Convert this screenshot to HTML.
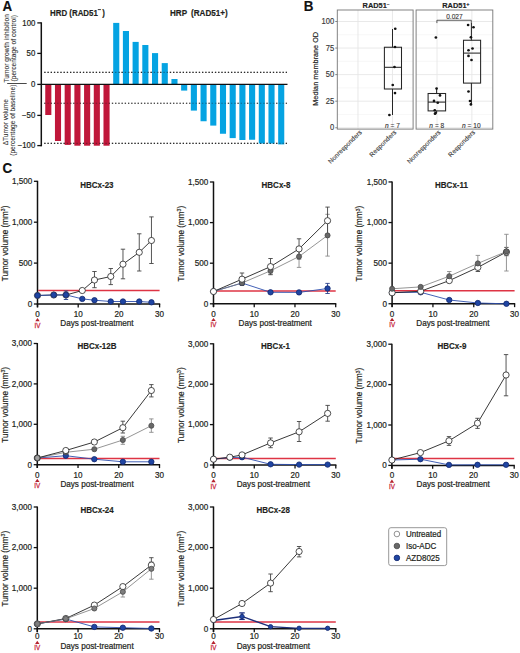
<!DOCTYPE html>
<html><head><meta charset="utf-8"><style>
html,body{margin:0;padding:0;background:#fff;width:520px;height:653px;overflow:hidden}
svg{display:block;font-family:"Liberation Sans", sans-serif}
</style></head><body>
<svg width="520" height="653" viewBox="0 0 520 653" font-family='"Liberation Sans", sans-serif'>
<rect width="520" height="653" fill="#fff"/>
<text x="0" y="0" font-size="13.4" font-weight="bold" fill="#111" stroke="#111" stroke-width="0.15" transform="translate(2.6,10.7) scale(1,1.08)">A</text>
<text x="0" y="0" font-size="7.9" font-weight="bold" fill="#231f20" stroke="#231f20" stroke-width="0.15" transform="translate(50.0,16.2) scale(1,1.08)">HRD (RAD51</text>
<line x1="97.8" y1="9.6" x2="100.9" y2="9.6" stroke="#231f20" stroke-width="0.9"/>
<text x="0" y="0" font-size="7.9" font-weight="bold" fill="#231f20" stroke="#231f20" stroke-width="0.15" transform="translate(102.2,16.2) scale(1,1.08)">)</text>
<text x="0" y="0" font-size="8.1" font-weight="bold" fill="#231f20" stroke="#231f20" stroke-width="0.15" transform="translate(170.0,16.3) scale(1,1.08)">HRP</text><text x="0" y="0" font-size="8.1" font-weight="bold" fill="#231f20" stroke="#231f20" stroke-width="0.15" transform="translate(191.0,16.3) scale(1,1.08)">(RAD51+)</text>
<line x1="44.25" y1="72.35" x2="287" y2="72.35" stroke="#333" stroke-width="1.15" stroke-dasharray="1.3 1.92"/>
<line x1="44.25" y1="103.2" x2="287" y2="103.2" stroke="#333" stroke-width="1.15" stroke-dasharray="1.3 1.92"/>
<line x1="44.25" y1="143.4" x2="287" y2="143.4" stroke="#333" stroke-width="1.15" stroke-dasharray="1.3 1.92"/>
<rect x="45.25" y="84.40" width="6.1" height="30.60" fill="#c0173a"/>
<rect x="54.95" y="84.40" width="6.1" height="56.60" fill="#c0173a"/>
<rect x="64.66" y="84.40" width="6.1" height="60.50" fill="#c0173a"/>
<rect x="74.37" y="84.40" width="6.1" height="61.30" fill="#c0173a"/>
<rect x="84.07" y="84.40" width="6.1" height="61.30" fill="#c0173a"/>
<rect x="93.78" y="84.40" width="6.1" height="61.30" fill="#c0173a"/>
<rect x="103.48" y="84.40" width="6.1" height="61.30" fill="#c0173a"/>
<rect x="113.19" y="22.90" width="6.1" height="61.50" fill="#05a3e2"/>
<rect x="122.89" y="31.00" width="6.1" height="53.40" fill="#05a3e2"/>
<rect x="132.59" y="41.90" width="6.1" height="42.50" fill="#05a3e2"/>
<rect x="142.30" y="45.00" width="6.1" height="39.40" fill="#05a3e2"/>
<rect x="152.00" y="53.10" width="6.1" height="31.30" fill="#05a3e2"/>
<rect x="161.71" y="63.10" width="6.1" height="21.30" fill="#05a3e2"/>
<rect x="171.42" y="79.00" width="6.1" height="5.40" fill="#05a3e2"/>
<rect x="181.12" y="84.40" width="6.1" height="6.20" fill="#05a3e2"/>
<rect x="190.82" y="84.40" width="6.1" height="26.20" fill="#05a3e2"/>
<rect x="200.53" y="84.40" width="6.1" height="36.85" fill="#05a3e2"/>
<rect x="210.24" y="84.40" width="6.1" height="41.20" fill="#05a3e2"/>
<rect x="219.94" y="84.40" width="6.1" height="49.35" fill="#05a3e2"/>
<rect x="229.65" y="84.40" width="6.1" height="53.70" fill="#05a3e2"/>
<rect x="239.35" y="84.40" width="6.1" height="55.60" fill="#05a3e2"/>
<rect x="249.06" y="84.40" width="6.1" height="55.35" fill="#05a3e2"/>
<rect x="258.76" y="84.40" width="6.1" height="59.10" fill="#05a3e2"/>
<rect x="268.47" y="84.40" width="6.1" height="59.10" fill="#05a3e2"/>
<rect x="278.17" y="84.40" width="6.1" height="60.00" fill="#05a3e2"/>
<line x1="44.25" y1="72.35" x2="287" y2="72.35" stroke="#222" stroke-opacity="0.45" stroke-width="1.15" stroke-dasharray="1.3 1.92"/>
<line x1="44.25" y1="103.2" x2="287" y2="103.2" stroke="#222" stroke-opacity="0.45" stroke-width="1.15" stroke-dasharray="1.3 1.92"/>
<line x1="44.25" y1="143.4" x2="287" y2="143.4" stroke="#222" stroke-opacity="0.45" stroke-width="1.15" stroke-dasharray="1.3 1.92"/>
<line x1="41.3" y1="84.4" x2="287.5" y2="84.4" stroke="#111" stroke-width="1.4"/>
<line x1="41.3" y1="22.3" x2="41.3" y2="146.3" stroke="#111" stroke-width="1.5"/>
<line x1="37.3" y1="22.9" x2="41.3" y2="22.9" stroke="#111" stroke-width="1.3"/>
<text x="0" y="0" font-size="7.8" text-anchor="end" fill="#231f20" stroke="#231f20" stroke-width="0.2" transform="translate(35.3,25.7) scale(1,1.08)">100</text>
<line x1="37.3" y1="53.4" x2="41.3" y2="53.4" stroke="#111" stroke-width="1.3"/>
<text x="0" y="0" font-size="7.8" text-anchor="end" fill="#231f20" stroke="#231f20" stroke-width="0.2" transform="translate(35.3,56.2) scale(1,1.08)">50</text>
<line x1="37.3" y1="84.4" x2="41.3" y2="84.4" stroke="#111" stroke-width="1.3"/>
<text x="0" y="0" font-size="7.8" text-anchor="end" fill="#231f20" stroke="#231f20" stroke-width="0.2" transform="translate(35.3,87.2) scale(1,1.08)">0</text>
<line x1="37.3" y1="115.4" x2="41.3" y2="115.4" stroke="#111" stroke-width="1.3"/>
<text x="0" y="0" font-size="7.8" text-anchor="end" fill="#231f20" stroke="#231f20" stroke-width="0.2" transform="translate(35.3,118.2) scale(1,1.08)">−50</text>
<line x1="37.3" y1="145.6" x2="41.3" y2="145.6" stroke="#111" stroke-width="1.3"/>
<text x="0" y="0" font-size="7.8" text-anchor="end" fill="#231f20" stroke="#231f20" stroke-width="0.2" transform="translate(35.3,148.4) scale(1,1.08)">−100</text>
<g transform="translate(8.6,48.3) rotate(-90)"><text x="0" y="0" font-size="6.6" text-anchor="middle" fill="#333" stroke="#333" stroke-width="0.08">Tumor growth inhibition</text></g>
<g transform="translate(15.9,48.3) rotate(-90)"><text x="0" y="0" font-size="6.6" text-anchor="middle" fill="#333" stroke="#333" stroke-width="0.08">(percentage of control)</text></g>
<line x1="7.2" y1="83.5" x2="26.7" y2="83.5" stroke="#333" stroke-width="0.9"/>
<g transform="translate(7.9,122.2) rotate(-90)"><text x="0" y="0" font-size="6.6" text-anchor="middle" fill="#333" stroke="#333" stroke-width="0.08">ΔTumor volume</text></g>
<g transform="translate(15.1,120.2) rotate(-90)"><text x="0" y="0" font-size="6.6" text-anchor="middle" fill="#333" stroke="#333" stroke-width="0.08">(percentage of baseline)</text></g>
<text x="0" y="0" font-size="13.4" font-weight="bold" fill="#111" stroke="#111" stroke-width="0.15" transform="translate(303.8,10.7) scale(1,1.08)">B</text>
<line x1="337.3" y1="114.47" x2="413.1" y2="114.47" stroke="#f2f2f2" stroke-width="0.6"/>
<line x1="337.3" y1="87.91" x2="413.1" y2="87.91" stroke="#f2f2f2" stroke-width="0.6"/>
<line x1="337.3" y1="61.34" x2="413.1" y2="61.34" stroke="#f2f2f2" stroke-width="0.6"/>
<line x1="337.3" y1="34.78" x2="413.1" y2="34.78" stroke="#f2f2f2" stroke-width="0.6"/>
<line x1="337.3" y1="127.75" x2="413.1" y2="127.75" stroke="#e6e6e6" stroke-width="0.9"/>
<line x1="337.3" y1="101.19" x2="413.1" y2="101.19" stroke="#e6e6e6" stroke-width="0.9"/>
<line x1="337.3" y1="74.62" x2="413.1" y2="74.62" stroke="#e6e6e6" stroke-width="0.9"/>
<line x1="337.3" y1="48.06" x2="413.1" y2="48.06" stroke="#e6e6e6" stroke-width="0.9"/>
<line x1="337.3" y1="21.50" x2="413.1" y2="21.50" stroke="#e6e6e6" stroke-width="0.9"/>
<line x1="357.97" y1="10" x2="357.97" y2="129.1" stroke="#e6e6e6" stroke-width="0.9"/>
<line x1="392.43" y1="10" x2="392.43" y2="129.1" stroke="#e6e6e6" stroke-width="0.9"/>
<rect x="337.3" y="10" width="75.80" height="119.10" fill="none" stroke="#7c7c7c" stroke-width="0.95"/>
<line x1="416.1" y1="114.47" x2="492.8" y2="114.47" stroke="#f2f2f2" stroke-width="0.6"/>
<line x1="416.1" y1="87.91" x2="492.8" y2="87.91" stroke="#f2f2f2" stroke-width="0.6"/>
<line x1="416.1" y1="61.34" x2="492.8" y2="61.34" stroke="#f2f2f2" stroke-width="0.6"/>
<line x1="416.1" y1="34.78" x2="492.8" y2="34.78" stroke="#f2f2f2" stroke-width="0.6"/>
<line x1="416.1" y1="127.75" x2="492.8" y2="127.75" stroke="#e6e6e6" stroke-width="0.9"/>
<line x1="416.1" y1="101.19" x2="492.8" y2="101.19" stroke="#e6e6e6" stroke-width="0.9"/>
<line x1="416.1" y1="74.62" x2="492.8" y2="74.62" stroke="#e6e6e6" stroke-width="0.9"/>
<line x1="416.1" y1="48.06" x2="492.8" y2="48.06" stroke="#e6e6e6" stroke-width="0.9"/>
<line x1="416.1" y1="21.50" x2="492.8" y2="21.50" stroke="#e6e6e6" stroke-width="0.9"/>
<line x1="437.02" y1="10" x2="437.02" y2="129.1" stroke="#e6e6e6" stroke-width="0.9"/>
<line x1="471.88" y1="10" x2="471.88" y2="129.1" stroke="#e6e6e6" stroke-width="0.9"/>
<rect x="416.1" y="10" width="76.70" height="119.10" fill="none" stroke="#7c7c7c" stroke-width="0.95"/>
<line x1="335.3" y1="127.75" x2="337.3" y2="127.75" stroke="#666" stroke-width="0.8"/>
<text x="0" y="0" font-size="7.6" text-anchor="end" fill="#3a3a3a" stroke="#3a3a3a" stroke-width="0.15" transform="translate(334.2,130.45) scale(1,1.08)">0</text>
<line x1="335.3" y1="101.19" x2="337.3" y2="101.19" stroke="#666" stroke-width="0.8"/>
<text x="0" y="0" font-size="7.6" text-anchor="end" fill="#3a3a3a" stroke="#3a3a3a" stroke-width="0.15" transform="translate(334.2,103.89) scale(1,1.08)">25</text>
<line x1="335.3" y1="74.62" x2="337.3" y2="74.62" stroke="#666" stroke-width="0.8"/>
<text x="0" y="0" font-size="7.6" text-anchor="end" fill="#3a3a3a" stroke="#3a3a3a" stroke-width="0.15" transform="translate(334.2,77.33) scale(1,1.08)">50</text>
<line x1="335.3" y1="48.06" x2="337.3" y2="48.06" stroke="#666" stroke-width="0.8"/>
<text x="0" y="0" font-size="7.6" text-anchor="end" fill="#3a3a3a" stroke="#3a3a3a" stroke-width="0.15" transform="translate(334.2,50.76) scale(1,1.08)">75</text>
<line x1="335.3" y1="21.50" x2="337.3" y2="21.50" stroke="#666" stroke-width="0.8"/>
<text x="0" y="0" font-size="7.6" text-anchor="end" fill="#3a3a3a" stroke="#3a3a3a" stroke-width="0.15" transform="translate(334.2,24.2) scale(1,1.08)">100</text>
<g transform="translate(318.2,68.8) rotate(-90)"><text x="0" y="0" font-size="7.3" text-anchor="middle" fill="#222" stroke="#222" stroke-width="0.18">Median membrane OD</text></g>
<text x="0" y="0" font-size="7.4" font-weight="bold" text-anchor="middle" fill="#222" stroke="#222" stroke-width="0.15" transform="translate(376.0,8.1) scale(1,1.08)">RAD51<tspan dy="-1.9" font-size="4.8">–</tspan></text>
<text x="0" y="0" font-size="7.4" font-weight="bold" text-anchor="middle" fill="#222" stroke="#222" stroke-width="0.15" transform="translate(455.8,8.1) scale(1,1.08)">RAD51<tspan dy="-2.3" font-size="4.8">+</tspan></text>
<line x1="392.5" y1="29.0" x2="392.5" y2="47.25" stroke="#262626" stroke-width="1.05"/>
<line x1="392.5" y1="89.0" x2="392.5" y2="115.0" stroke="#262626" stroke-width="1.05"/>
<rect x="384.4" y="47.25" width="17.10" height="41.75" fill="none" stroke="#262626" stroke-width="1.05"/>
<line x1="384.4" y1="67.3" x2="401.5" y2="67.3" stroke="#262626" stroke-width="1.05"/>
<line x1="436.6" y1="88.5" x2="436.6" y2="93.5" stroke="#262626" stroke-width="1.05"/>
<line x1="436.6" y1="110.9" x2="436.6" y2="113.0" stroke="#262626" stroke-width="1.05"/>
<rect x="428.1" y="93.5" width="17.50" height="17.40" fill="none" stroke="#262626" stroke-width="1.05"/>
<line x1="428.1" y1="102.1" x2="445.6" y2="102.1" stroke="#262626" stroke-width="1.05"/>
<line x1="471.4" y1="23.0" x2="471.4" y2="40.25" stroke="#262626" stroke-width="1.05"/>
<line x1="471.4" y1="83.1" x2="471.4" y2="104.4" stroke="#262626" stroke-width="1.05"/>
<rect x="463.5" y="40.25" width="17.10" height="42.85" fill="none" stroke="#262626" stroke-width="1.05"/>
<line x1="463.5" y1="53.1" x2="480.6" y2="53.1" stroke="#262626" stroke-width="1.05"/>
<circle cx="395.25" cy="28.75" r="1.35" fill="#111"/>
<circle cx="395" cy="47" r="1.35" fill="#111"/>
<circle cx="394.5" cy="67" r="1.35" fill="#111"/>
<circle cx="392.75" cy="85" r="1.35" fill="#111"/>
<circle cx="395" cy="93.1" r="1.35" fill="#111"/>
<circle cx="389.4" cy="115" r="1.35" fill="#111"/>
<circle cx="435.9" cy="37.5" r="1.35" fill="#111"/>
<circle cx="436.6" cy="88.5" r="1.35" fill="#111"/>
<circle cx="440" cy="95.4" r="1.35" fill="#111"/>
<circle cx="434" cy="100.9" r="1.35" fill="#111"/>
<circle cx="437.75" cy="102.75" r="1.35" fill="#111"/>
<circle cx="434.75" cy="110.25" r="1.35" fill="#111"/>
<circle cx="435.6" cy="113.1" r="1.35" fill="#111"/>
<circle cx="435" cy="113.75" r="1.35" fill="#111"/>
<circle cx="468.1" cy="25" r="1.35" fill="#111"/>
<circle cx="473.5" cy="27.25" r="1.35" fill="#111"/>
<circle cx="470.9" cy="37.25" r="1.35" fill="#111"/>
<circle cx="472.5" cy="48.5" r="1.35" fill="#111"/>
<circle cx="468.5" cy="50.25" r="1.35" fill="#111"/>
<circle cx="468.5" cy="55.9" r="1.35" fill="#111"/>
<circle cx="471.5" cy="60" r="1.35" fill="#111"/>
<circle cx="468.5" cy="91.5" r="1.35" fill="#111"/>
<circle cx="470" cy="101" r="1.35" fill="#111"/>
<circle cx="470.9" cy="104.4" r="1.35" fill="#111"/>
<path d="M436.9 23.1 V20.25 H471.3 V23.1" fill="none" stroke="#333" stroke-width="0.8"/>
<text x="0" y="0" font-size="6.6" text-anchor="middle" fill="#333" stroke="#333" stroke-width="0.12" transform="translate(454.4,18.5) scale(1,1.08)">0.027</text>
<text x="0" y="0" font-size="6.6" text-anchor="middle" fill="#333" stroke="#333" stroke-width="0.12" transform="translate(392.5,128.0) scale(1,1.08)"><tspan font-style="italic">n</tspan> = 7</text>
<text x="0" y="0" font-size="6.6" text-anchor="middle" fill="#333" stroke="#333" stroke-width="0.12" transform="translate(436.8,128.0) scale(1,1.08)"><tspan font-style="italic">n</tspan> = 8</text>
<text x="0" y="0" font-size="6.6" text-anchor="middle" fill="#333" stroke="#333" stroke-width="0.12" transform="translate(471.3,128.0) scale(1,1.08)"><tspan font-style="italic">n</tspan> = 10</text>
<g transform="translate(362.30,132.6) rotate(-45)"><text x="0" y="0" font-size="6.5" text-anchor="end" fill="#3a3a3a" stroke="#3a3a3a" stroke-width="0.12">Nonresponders</text></g>
<g transform="translate(396.80,132.6) rotate(-45)"><text x="0" y="0" font-size="6.5" text-anchor="end" fill="#3a3a3a" stroke="#3a3a3a" stroke-width="0.12">Responders</text></g>
<g transform="translate(441.10,132.6) rotate(-45)"><text x="0" y="0" font-size="6.5" text-anchor="end" fill="#3a3a3a" stroke="#3a3a3a" stroke-width="0.12">Nonresponders</text></g>
<g transform="translate(475.60,132.6) rotate(-45)"><text x="0" y="0" font-size="6.5" text-anchor="end" fill="#3a3a3a" stroke="#3a3a3a" stroke-width="0.12">Responders</text></g>
<text x="0" y="0" font-size="13.4" font-weight="bold" fill="#111" stroke="#111" stroke-width="0.15" transform="translate(2.4,173.3) scale(1,1.08)">C</text>
<line x1="37.5" y1="180.80" x2="37.5" y2="307.30" stroke="#111" stroke-width="1.5"/>
<line x1="36.80" y1="304.0" x2="160.20" y2="304.0" stroke="#111" stroke-width="1.5"/>
<line x1="33.90" y1="304.00" x2="37.5" y2="304.00" stroke="#111" stroke-width="1.3"/>
<text x="0" y="0" font-size="8.1" text-anchor="end" fill="#231f20" stroke="#231f20" stroke-width="0.2" transform="translate(32.3,306.85) scale(1,1.08)">0</text>
<line x1="33.90" y1="263.10" x2="37.5" y2="263.10" stroke="#111" stroke-width="1.3"/>
<text x="0" y="0" font-size="8.1" text-anchor="end" fill="#231f20" stroke="#231f20" stroke-width="0.2" transform="translate(32.3,265.95) scale(1,1.08)">500</text>
<line x1="33.90" y1="222.20" x2="37.5" y2="222.20" stroke="#111" stroke-width="1.3"/>
<text x="0" y="0" font-size="8.1" text-anchor="end" fill="#231f20" stroke="#231f20" stroke-width="0.2" transform="translate(32.3,225.05) scale(1,1.08)">1,000</text>
<line x1="33.90" y1="181.30" x2="37.5" y2="181.30" stroke="#111" stroke-width="1.3"/>
<text x="0" y="0" font-size="8.1" text-anchor="end" fill="#231f20" stroke="#231f20" stroke-width="0.2" transform="translate(32.3,184.15) scale(1,1.08)">1,500</text>
<line x1="37.50" y1="304.0" x2="37.50" y2="307.40" stroke="#111" stroke-width="1.3"/>
<text x="0" y="0" font-size="8.1" text-anchor="middle" fill="#231f20" stroke="#231f20" stroke-width="0.2" transform="translate(37.5,317.0) scale(1,1.08)">0</text>
<line x1="78.20" y1="304.0" x2="78.20" y2="307.40" stroke="#111" stroke-width="1.3"/>
<text x="0" y="0" font-size="8.1" text-anchor="middle" fill="#231f20" stroke="#231f20" stroke-width="0.2" transform="translate(78.2,317.0) scale(1,1.08)">10</text>
<line x1="118.90" y1="304.0" x2="118.90" y2="307.40" stroke="#111" stroke-width="1.3"/>
<text x="0" y="0" font-size="8.1" text-anchor="middle" fill="#231f20" stroke="#231f20" stroke-width="0.2" transform="translate(118.9,317.0) scale(1,1.08)">20</text>
<line x1="159.60" y1="304.0" x2="159.60" y2="307.40" stroke="#111" stroke-width="1.3"/>
<text x="0" y="0" font-size="8.1" text-anchor="middle" fill="#231f20" stroke="#231f20" stroke-width="0.2" transform="translate(159.6,317.0) scale(1,1.08)">30</text>
<path d="M35.30 321.30 L37.50 318.10 L39.70 321.30 Z" fill="#b5222d"/>
<text x="0" y="0" font-size="6.3" text-anchor="middle" fill="#c8283a" stroke="#c8283a" stroke-width="0.25" transform="translate(37.5,327.5) scale(1,1.08)">IV</text>
<text x="0" y="0" font-size="8.15" fill="#231f20" stroke="#231f20" stroke-width="0.2" transform="translate(60.3,325.8) scale(1,1.08)">Days post-treatment</text>
<text x="0" y="0" font-size="8" font-weight="bold" text-anchor="middle" fill="#231f20" stroke="#231f20" stroke-width="0.15" transform="translate(96.9,187.6) scale(1,1.08)">HBCx-23</text>
<g transform="translate(7.70,243.45) rotate(-90)"><text x="0" y="0" font-size="8.15" text-anchor="middle" fill="#231f20" stroke="#231f20" stroke-width="0.18">Tumor volume (mm<tspan dy="-2.6" font-size="5">3</tspan><tspan dy="2.6">)</tspan></text></g>
<line x1="38.20" y1="290.4" x2="159.60" y2="290.4" stroke="#de3444" stroke-width="1.5"/>
<path d="M37.50 295.50 L53.78 295.00 L65.99 295.00 L82.27 290.50 L94.48 280.00 L110.76 276.50 L122.97 264.20 L139.25 252.30 L151.46 240.50" fill="none" stroke="#222222" stroke-width="0.9"/>
<path d="M37.50 295.50 L53.78 294.90 L65.99 294.90 L82.27 298.90 L94.48 300.20 L110.76 301.50 L122.97 301.50 L139.25 301.50 L151.46 302.30" fill="none" stroke="#2e4fae" stroke-width="0.9"/>
<line x1="94.48" y1="271.5" x2="94.48" y2="287.7" stroke="#444444" stroke-width="0.9"/>
<line x1="92.28" y1="271.5" x2="96.68" y2="271.5" stroke="#444444" stroke-width="0.9"/>
<line x1="92.28" y1="287.7" x2="96.68" y2="287.7" stroke="#444444" stroke-width="0.9"/>
<line x1="110.76" y1="268.5" x2="110.76" y2="284.6" stroke="#444444" stroke-width="0.9"/>
<line x1="108.56" y1="268.5" x2="112.96" y2="268.5" stroke="#444444" stroke-width="0.9"/>
<line x1="108.56" y1="284.6" x2="112.96" y2="284.6" stroke="#444444" stroke-width="0.9"/>
<line x1="122.97" y1="249.2" x2="122.97" y2="278.8" stroke="#444444" stroke-width="0.9"/>
<line x1="120.77" y1="249.2" x2="125.17" y2="249.2" stroke="#444444" stroke-width="0.9"/>
<line x1="120.77" y1="278.8" x2="125.17" y2="278.8" stroke="#444444" stroke-width="0.9"/>
<line x1="139.25" y1="233.8" x2="139.25" y2="271" stroke="#444444" stroke-width="0.9"/>
<line x1="137.05" y1="233.8" x2="141.45" y2="233.8" stroke="#444444" stroke-width="0.9"/>
<line x1="137.05" y1="271" x2="141.45" y2="271" stroke="#444444" stroke-width="0.9"/>
<line x1="151.46" y1="216.9" x2="151.46" y2="263.5" stroke="#444444" stroke-width="0.9"/>
<line x1="149.26" y1="216.9" x2="153.66" y2="216.9" stroke="#444444" stroke-width="0.9"/>
<line x1="149.26" y1="263.5" x2="153.66" y2="263.5" stroke="#444444" stroke-width="0.9"/>
<line x1="65.99" y1="291" x2="65.99" y2="299.5" stroke="#2a3f8a" stroke-width="0.9"/>
<line x1="63.79" y1="291" x2="68.19" y2="291" stroke="#2a3f8a" stroke-width="0.9"/>
<line x1="63.79" y1="299.5" x2="68.19" y2="299.5" stroke="#2a3f8a" stroke-width="0.9"/>
<circle cx="37.50" cy="295.50" r="3.1" fill="#ffffff" stroke="#222222" stroke-width="0.8"/>
<circle cx="53.78" cy="295.00" r="3.1" fill="#ffffff" stroke="#222222" stroke-width="0.8"/>
<circle cx="65.99" cy="295.00" r="3.1" fill="#ffffff" stroke="#222222" stroke-width="0.8"/>
<circle cx="82.27" cy="290.50" r="3.1" fill="#ffffff" stroke="#222222" stroke-width="0.8"/>
<circle cx="94.48" cy="280.00" r="3.1" fill="#ffffff" stroke="#222222" stroke-width="0.8"/>
<circle cx="110.76" cy="276.50" r="3.1" fill="#ffffff" stroke="#222222" stroke-width="0.8"/>
<circle cx="122.97" cy="264.20" r="3.1" fill="#ffffff" stroke="#222222" stroke-width="0.8"/>
<circle cx="139.25" cy="252.30" r="3.1" fill="#ffffff" stroke="#222222" stroke-width="0.8"/>
<circle cx="151.46" cy="240.50" r="3.1" fill="#ffffff" stroke="#222222" stroke-width="0.8"/>
<circle cx="37.50" cy="295.50" r="2.7" fill="#1f45a3" stroke="#13286e" stroke-width="0.8"/>
<circle cx="53.78" cy="294.90" r="2.7" fill="#1f45a3" stroke="#13286e" stroke-width="0.8"/>
<circle cx="65.99" cy="294.90" r="2.7" fill="#1f45a3" stroke="#13286e" stroke-width="0.8"/>
<circle cx="82.27" cy="298.90" r="2.7" fill="#1f45a3" stroke="#13286e" stroke-width="0.8"/>
<circle cx="94.48" cy="300.20" r="2.7" fill="#1f45a3" stroke="#13286e" stroke-width="0.8"/>
<circle cx="110.76" cy="301.50" r="2.7" fill="#1f45a3" stroke="#13286e" stroke-width="0.8"/>
<circle cx="122.97" cy="301.50" r="2.7" fill="#1f45a3" stroke="#13286e" stroke-width="0.8"/>
<circle cx="139.25" cy="301.50" r="2.7" fill="#1f45a3" stroke="#13286e" stroke-width="0.8"/>
<circle cx="151.46" cy="302.30" r="2.7" fill="#1f45a3" stroke="#13286e" stroke-width="0.8"/>
<line x1="213.5" y1="181.50" x2="213.5" y2="307.10" stroke="#111" stroke-width="1.5"/>
<line x1="212.80" y1="303.8" x2="336.30" y2="303.8" stroke="#111" stroke-width="1.5"/>
<line x1="209.90" y1="303.80" x2="213.5" y2="303.80" stroke="#111" stroke-width="1.3"/>
<text x="0" y="0" font-size="8.1" text-anchor="end" fill="#231f20" stroke="#231f20" stroke-width="0.2" transform="translate(208.3,306.65) scale(1,1.08)">0</text>
<line x1="209.90" y1="263.20" x2="213.5" y2="263.20" stroke="#111" stroke-width="1.3"/>
<text x="0" y="0" font-size="8.1" text-anchor="end" fill="#231f20" stroke="#231f20" stroke-width="0.2" transform="translate(208.3,266.05) scale(1,1.08)">500</text>
<line x1="209.90" y1="222.60" x2="213.5" y2="222.60" stroke="#111" stroke-width="1.3"/>
<text x="0" y="0" font-size="8.1" text-anchor="end" fill="#231f20" stroke="#231f20" stroke-width="0.2" transform="translate(208.3,225.45) scale(1,1.08)">1,000</text>
<line x1="209.90" y1="182.00" x2="213.5" y2="182.00" stroke="#111" stroke-width="1.3"/>
<text x="0" y="0" font-size="8.1" text-anchor="end" fill="#231f20" stroke="#231f20" stroke-width="0.2" transform="translate(208.3,184.85) scale(1,1.08)">1,500</text>
<line x1="213.50" y1="303.8" x2="213.50" y2="307.20" stroke="#111" stroke-width="1.3"/>
<text x="0" y="0" font-size="8.1" text-anchor="middle" fill="#231f20" stroke="#231f20" stroke-width="0.2" transform="translate(213.5,316.8) scale(1,1.08)">0</text>
<line x1="254.23" y1="303.8" x2="254.23" y2="307.20" stroke="#111" stroke-width="1.3"/>
<text x="0" y="0" font-size="8.1" text-anchor="middle" fill="#231f20" stroke="#231f20" stroke-width="0.2" transform="translate(254.23,316.8) scale(1,1.08)">10</text>
<line x1="294.97" y1="303.8" x2="294.97" y2="307.20" stroke="#111" stroke-width="1.3"/>
<text x="0" y="0" font-size="8.1" text-anchor="middle" fill="#231f20" stroke="#231f20" stroke-width="0.2" transform="translate(294.97,316.8) scale(1,1.08)">20</text>
<line x1="335.70" y1="303.8" x2="335.70" y2="307.20" stroke="#111" stroke-width="1.3"/>
<text x="0" y="0" font-size="8.1" text-anchor="middle" fill="#231f20" stroke="#231f20" stroke-width="0.2" transform="translate(335.7,316.8) scale(1,1.08)">30</text>
<path d="M211.30 321.10 L213.50 317.90 L215.70 321.10 Z" fill="#b5222d"/>
<text x="0" y="0" font-size="6.3" text-anchor="middle" fill="#c8283a" stroke="#c8283a" stroke-width="0.25" transform="translate(213.5,327.3) scale(1,1.08)">IV</text>
<text x="0" y="0" font-size="8.15" fill="#231f20" stroke="#231f20" stroke-width="0.2" transform="translate(238.6,325.6) scale(1,1.08)">Days post-treatment</text>
<text x="0" y="0" font-size="8" font-weight="bold" text-anchor="middle" fill="#231f20" stroke="#231f20" stroke-width="0.15" transform="translate(276.0,187.6) scale(1,1.08)">HBCx-8</text>
<g transform="translate(183.70,243.70) rotate(-90)"><text x="0" y="0" font-size="8.15" text-anchor="middle" fill="#231f20" stroke="#231f20" stroke-width="0.18">Tumor volume (mm<tspan dy="-2.6" font-size="5">3</tspan><tspan dy="2.6">)</tspan></text></g>
<line x1="214.20" y1="291.0" x2="335.70" y2="291.0" stroke="#de3444" stroke-width="1.5"/>
<path d="M213.50 291.50 L242.01 283.00 L270.53 292.30 L299.04 292.40 L327.55 288.50" fill="none" stroke="#2e4fae" stroke-width="0.9"/>
<path d="M213.50 291.50 L242.01 283.00 L270.53 270.80 L299.04 256.50 L327.55 235.40" fill="none" stroke="#7a7a7a" stroke-width="0.8"/>
<path d="M213.50 291.50 L242.01 279.20 L270.53 266.60 L299.04 248.90 L327.55 220.70" fill="none" stroke="#222222" stroke-width="0.9"/>
<line x1="327.55" y1="283.4" x2="327.55" y2="293.5" stroke="#2a3f8a" stroke-width="0.9"/>
<line x1="325.35" y1="283.4" x2="329.75" y2="283.4" stroke="#2a3f8a" stroke-width="0.9"/>
<line x1="325.35" y1="293.5" x2="329.75" y2="293.5" stroke="#2a3f8a" stroke-width="0.9"/>
<line x1="270.53" y1="266" x2="270.53" y2="274" stroke="#8a8a8a" stroke-width="0.9"/>
<line x1="268.33" y1="266" x2="272.73" y2="266" stroke="#8a8a8a" stroke-width="0.9"/>
<line x1="268.33" y1="274" x2="272.73" y2="274" stroke="#8a8a8a" stroke-width="0.9"/>
<line x1="299.04" y1="250" x2="299.04" y2="267.4" stroke="#8a8a8a" stroke-width="0.9"/>
<line x1="296.84" y1="250" x2="301.24" y2="250" stroke="#8a8a8a" stroke-width="0.9"/>
<line x1="296.84" y1="267.4" x2="301.24" y2="267.4" stroke="#8a8a8a" stroke-width="0.9"/>
<line x1="327.55" y1="214.3" x2="327.55" y2="256.1" stroke="#8a8a8a" stroke-width="0.9"/>
<line x1="325.35" y1="214.3" x2="329.75" y2="214.3" stroke="#8a8a8a" stroke-width="0.9"/>
<line x1="325.35" y1="256.1" x2="329.75" y2="256.1" stroke="#8a8a8a" stroke-width="0.9"/>
<line x1="242.01" y1="273" x2="242.01" y2="285.4" stroke="#444444" stroke-width="0.9"/>
<line x1="239.81" y1="273" x2="244.21" y2="273" stroke="#444444" stroke-width="0.9"/>
<line x1="239.81" y1="285.4" x2="244.21" y2="285.4" stroke="#444444" stroke-width="0.9"/>
<line x1="270.53" y1="258.5" x2="270.53" y2="274.7" stroke="#444444" stroke-width="0.9"/>
<line x1="268.33" y1="258.5" x2="272.73" y2="258.5" stroke="#444444" stroke-width="0.9"/>
<line x1="268.33" y1="274.7" x2="272.73" y2="274.7" stroke="#444444" stroke-width="0.9"/>
<line x1="299.04" y1="238.8" x2="299.04" y2="259" stroke="#444444" stroke-width="0.9"/>
<line x1="296.84" y1="238.8" x2="301.24" y2="238.8" stroke="#444444" stroke-width="0.9"/>
<line x1="296.84" y1="259" x2="301.24" y2="259" stroke="#444444" stroke-width="0.9"/>
<line x1="327.55" y1="207.1" x2="327.55" y2="234.3" stroke="#444444" stroke-width="0.9"/>
<line x1="325.35" y1="207.1" x2="329.75" y2="207.1" stroke="#444444" stroke-width="0.9"/>
<line x1="325.35" y1="234.3" x2="329.75" y2="234.3" stroke="#444444" stroke-width="0.9"/>
<circle cx="213.50" cy="291.50" r="2.7" fill="#1f45a3" stroke="#13286e" stroke-width="0.8"/>
<circle cx="242.01" cy="283.00" r="2.7" fill="#1f45a3" stroke="#13286e" stroke-width="0.8"/>
<circle cx="270.53" cy="292.30" r="2.7" fill="#1f45a3" stroke="#13286e" stroke-width="0.8"/>
<circle cx="299.04" cy="292.40" r="2.7" fill="#1f45a3" stroke="#13286e" stroke-width="0.8"/>
<circle cx="327.55" cy="288.50" r="2.7" fill="#1f45a3" stroke="#13286e" stroke-width="0.8"/>
<circle cx="213.50" cy="291.50" r="2.55" fill="#686868" stroke="#4a4a4a" stroke-width="0.8"/>
<circle cx="242.01" cy="283.00" r="2.55" fill="#686868" stroke="#4a4a4a" stroke-width="0.8"/>
<circle cx="270.53" cy="270.80" r="2.55" fill="#686868" stroke="#4a4a4a" stroke-width="0.8"/>
<circle cx="299.04" cy="256.50" r="2.55" fill="#686868" stroke="#4a4a4a" stroke-width="0.8"/>
<circle cx="327.55" cy="235.40" r="2.55" fill="#686868" stroke="#4a4a4a" stroke-width="0.8"/>
<circle cx="213.50" cy="291.50" r="3.1" fill="#ffffff" stroke="#222222" stroke-width="0.8"/>
<circle cx="242.01" cy="279.20" r="3.1" fill="#ffffff" stroke="#222222" stroke-width="0.8"/>
<circle cx="270.53" cy="266.60" r="3.1" fill="#ffffff" stroke="#222222" stroke-width="0.8"/>
<circle cx="299.04" cy="248.90" r="3.1" fill="#ffffff" stroke="#222222" stroke-width="0.8"/>
<circle cx="327.55" cy="220.70" r="3.1" fill="#ffffff" stroke="#222222" stroke-width="0.8"/>
<line x1="392.1" y1="181.45" x2="392.1" y2="307.05" stroke="#111" stroke-width="1.5"/>
<line x1="391.40" y1="303.75" x2="515.20" y2="303.75" stroke="#111" stroke-width="1.5"/>
<line x1="388.50" y1="303.75" x2="392.1" y2="303.75" stroke="#111" stroke-width="1.3"/>
<text x="0" y="0" font-size="8.1" text-anchor="end" fill="#231f20" stroke="#231f20" stroke-width="0.2" transform="translate(386.9,306.6) scale(1,1.08)">0</text>
<line x1="388.50" y1="263.15" x2="392.1" y2="263.15" stroke="#111" stroke-width="1.3"/>
<text x="0" y="0" font-size="8.1" text-anchor="end" fill="#231f20" stroke="#231f20" stroke-width="0.2" transform="translate(386.9,266.0) scale(1,1.08)">500</text>
<line x1="388.50" y1="222.55" x2="392.1" y2="222.55" stroke="#111" stroke-width="1.3"/>
<text x="0" y="0" font-size="8.1" text-anchor="end" fill="#231f20" stroke="#231f20" stroke-width="0.2" transform="translate(386.9,225.4) scale(1,1.08)">1,000</text>
<line x1="388.50" y1="181.95" x2="392.1" y2="181.95" stroke="#111" stroke-width="1.3"/>
<text x="0" y="0" font-size="8.1" text-anchor="end" fill="#231f20" stroke="#231f20" stroke-width="0.2" transform="translate(386.9,184.8) scale(1,1.08)">1,500</text>
<line x1="392.10" y1="303.75" x2="392.10" y2="307.15" stroke="#111" stroke-width="1.3"/>
<text x="0" y="0" font-size="8.1" text-anchor="middle" fill="#231f20" stroke="#231f20" stroke-width="0.2" transform="translate(392.1,316.75) scale(1,1.08)">0</text>
<line x1="432.93" y1="303.75" x2="432.93" y2="307.15" stroke="#111" stroke-width="1.3"/>
<text x="0" y="0" font-size="8.1" text-anchor="middle" fill="#231f20" stroke="#231f20" stroke-width="0.2" transform="translate(432.93,316.75) scale(1,1.08)">10</text>
<line x1="473.77" y1="303.75" x2="473.77" y2="307.15" stroke="#111" stroke-width="1.3"/>
<text x="0" y="0" font-size="8.1" text-anchor="middle" fill="#231f20" stroke="#231f20" stroke-width="0.2" transform="translate(473.77,316.75) scale(1,1.08)">20</text>
<line x1="514.60" y1="303.75" x2="514.60" y2="307.15" stroke="#111" stroke-width="1.3"/>
<text x="0" y="0" font-size="8.1" text-anchor="middle" fill="#231f20" stroke="#231f20" stroke-width="0.2" transform="translate(514.6,316.75) scale(1,1.08)">30</text>
<path d="M389.90 321.05 L392.10 317.85 L394.30 321.05 Z" fill="#b5222d"/>
<text x="0" y="0" font-size="6.3" text-anchor="middle" fill="#c8283a" stroke="#c8283a" stroke-width="0.25" transform="translate(392.1,327.25) scale(1,1.08)">IV</text>
<text x="0" y="0" font-size="8.15" fill="#231f20" stroke="#231f20" stroke-width="0.2" transform="translate(416.3,325.55) scale(1,1.08)">Days post-treatment</text>
<text x="0" y="0" font-size="8" font-weight="bold" text-anchor="middle" fill="#231f20" stroke="#231f20" stroke-width="0.15" transform="translate(451.5,187.6) scale(1,1.08)">HBCx-11</text>
<g transform="translate(362.30,243.65) rotate(-90)"><text x="0" y="0" font-size="8.15" text-anchor="middle" fill="#231f20" stroke="#231f20" stroke-width="0.18">Tumor volume (mm<tspan dy="-2.6" font-size="5">3</tspan><tspan dy="2.6">)</tspan></text></g>
<line x1="392.80" y1="290.7" x2="514.60" y2="290.7" stroke="#de3444" stroke-width="1.5"/>
<path d="M392.10 292.50 L420.68 292.30 L449.27 300.00 L477.85 303.00 L506.43 303.80" fill="none" stroke="#2e4fae" stroke-width="0.9"/>
<path d="M392.10 292.75 L420.68 291.25 L449.27 280.60 L477.85 267.40 L506.43 252.00" fill="none" stroke="#222222" stroke-width="0.9"/>
<path d="M392.10 288.75 L420.68 286.90 L449.27 276.20 L477.85 263.40 L506.43 251.50" fill="none" stroke="#7a7a7a" stroke-width="0.8"/>
<line x1="477.85" y1="263" x2="477.85" y2="271.5" stroke="#444444" stroke-width="0.9"/>
<line x1="475.65" y1="263" x2="480.05" y2="263" stroke="#444444" stroke-width="0.9"/>
<line x1="475.65" y1="271.5" x2="480.05" y2="271.5" stroke="#444444" stroke-width="0.9"/>
<line x1="506.43" y1="247.4" x2="506.43" y2="255.7" stroke="#444444" stroke-width="0.9"/>
<line x1="504.23" y1="247.4" x2="508.63" y2="247.4" stroke="#444444" stroke-width="0.9"/>
<line x1="504.23" y1="255.7" x2="508.63" y2="255.7" stroke="#444444" stroke-width="0.9"/>
<line x1="449.27" y1="271.5" x2="449.27" y2="279" stroke="#8a8a8a" stroke-width="0.9"/>
<line x1="447.07" y1="271.5" x2="451.47" y2="271.5" stroke="#8a8a8a" stroke-width="0.9"/>
<line x1="447.07" y1="279" x2="451.47" y2="279" stroke="#8a8a8a" stroke-width="0.9"/>
<line x1="477.85" y1="255.4" x2="477.85" y2="266" stroke="#8a8a8a" stroke-width="0.9"/>
<line x1="475.65" y1="255.4" x2="480.05" y2="255.4" stroke="#8a8a8a" stroke-width="0.9"/>
<line x1="475.65" y1="266" x2="480.05" y2="266" stroke="#8a8a8a" stroke-width="0.9"/>
<line x1="506.43" y1="234.3" x2="506.43" y2="271" stroke="#8a8a8a" stroke-width="0.9"/>
<line x1="504.23" y1="234.3" x2="508.63" y2="234.3" stroke="#8a8a8a" stroke-width="0.9"/>
<line x1="504.23" y1="271" x2="508.63" y2="271" stroke="#8a8a8a" stroke-width="0.9"/>
<circle cx="392.10" cy="292.50" r="2.7" fill="#1f45a3" stroke="#13286e" stroke-width="0.8"/>
<circle cx="420.68" cy="292.30" r="2.7" fill="#1f45a3" stroke="#13286e" stroke-width="0.8"/>
<circle cx="449.27" cy="300.00" r="2.7" fill="#1f45a3" stroke="#13286e" stroke-width="0.8"/>
<circle cx="477.85" cy="303.00" r="2.7" fill="#1f45a3" stroke="#13286e" stroke-width="0.8"/>
<circle cx="506.43" cy="303.80" r="2.7" fill="#1f45a3" stroke="#13286e" stroke-width="0.8"/>
<circle cx="392.10" cy="292.75" r="3.1" fill="#ffffff" stroke="#222222" stroke-width="0.8"/>
<circle cx="420.68" cy="291.25" r="3.1" fill="#ffffff" stroke="#222222" stroke-width="0.8"/>
<circle cx="449.27" cy="280.60" r="3.1" fill="#ffffff" stroke="#222222" stroke-width="0.8"/>
<circle cx="477.85" cy="267.40" r="3.1" fill="#ffffff" stroke="#222222" stroke-width="0.8"/>
<circle cx="506.43" cy="252.00" r="3.1" fill="#ffffff" stroke="#222222" stroke-width="0.8"/>
<circle cx="392.10" cy="288.75" r="2.55" fill="#686868" stroke="#4a4a4a" stroke-width="0.8"/>
<circle cx="420.68" cy="286.90" r="2.55" fill="#686868" stroke="#4a4a4a" stroke-width="0.8"/>
<circle cx="449.27" cy="276.20" r="2.55" fill="#686868" stroke="#4a4a4a" stroke-width="0.8"/>
<circle cx="477.85" cy="263.40" r="2.55" fill="#686868" stroke="#4a4a4a" stroke-width="0.8"/>
<circle cx="506.43" cy="251.50" r="2.55" fill="#686868" stroke="#4a4a4a" stroke-width="0.8"/>
<line x1="37.3" y1="343.00" x2="37.3" y2="468.00" stroke="#111" stroke-width="1.5"/>
<line x1="36.60" y1="464.7" x2="160.10" y2="464.7" stroke="#111" stroke-width="1.5"/>
<line x1="33.70" y1="464.70" x2="37.3" y2="464.70" stroke="#111" stroke-width="1.3"/>
<text x="0" y="0" font-size="8.1" text-anchor="end" fill="#231f20" stroke="#231f20" stroke-width="0.2" transform="translate(32.1,467.55) scale(1,1.08)">0</text>
<line x1="33.70" y1="424.30" x2="37.3" y2="424.30" stroke="#111" stroke-width="1.3"/>
<text x="0" y="0" font-size="8.1" text-anchor="end" fill="#231f20" stroke="#231f20" stroke-width="0.2" transform="translate(32.1,427.15) scale(1,1.08)">1,000</text>
<line x1="33.70" y1="383.90" x2="37.3" y2="383.90" stroke="#111" stroke-width="1.3"/>
<text x="0" y="0" font-size="8.1" text-anchor="end" fill="#231f20" stroke="#231f20" stroke-width="0.2" transform="translate(32.1,386.75) scale(1,1.08)">2,000</text>
<line x1="33.70" y1="343.50" x2="37.3" y2="343.50" stroke="#111" stroke-width="1.3"/>
<text x="0" y="0" font-size="8.1" text-anchor="end" fill="#231f20" stroke="#231f20" stroke-width="0.2" transform="translate(32.1,346.35) scale(1,1.08)">3,000</text>
<line x1="37.30" y1="464.7" x2="37.30" y2="468.10" stroke="#111" stroke-width="1.3"/>
<text x="0" y="0" font-size="8.1" text-anchor="middle" fill="#231f20" stroke="#231f20" stroke-width="0.2" transform="translate(37.3,477.7) scale(1,1.08)">0</text>
<line x1="78.03" y1="464.7" x2="78.03" y2="468.10" stroke="#111" stroke-width="1.3"/>
<text x="0" y="0" font-size="8.1" text-anchor="middle" fill="#231f20" stroke="#231f20" stroke-width="0.2" transform="translate(78.03,477.7) scale(1,1.08)">10</text>
<line x1="118.77" y1="464.7" x2="118.77" y2="468.10" stroke="#111" stroke-width="1.3"/>
<text x="0" y="0" font-size="8.1" text-anchor="middle" fill="#231f20" stroke="#231f20" stroke-width="0.2" transform="translate(118.77,477.7) scale(1,1.08)">20</text>
<line x1="159.50" y1="464.7" x2="159.50" y2="468.10" stroke="#111" stroke-width="1.3"/>
<text x="0" y="0" font-size="8.1" text-anchor="middle" fill="#231f20" stroke="#231f20" stroke-width="0.2" transform="translate(159.5,477.7) scale(1,1.08)">30</text>
<path d="M35.10 482.00 L37.30 478.80 L39.50 482.00 Z" fill="#b5222d"/>
<text x="0" y="0" font-size="6.3" text-anchor="middle" fill="#c8283a" stroke="#c8283a" stroke-width="0.25" transform="translate(37.3,488.2) scale(1,1.08)">IV</text>
<text x="0" y="0" font-size="8.15" fill="#231f20" stroke="#231f20" stroke-width="0.2" transform="translate(60.4,486.5) scale(1,1.08)">Days post-treatment</text>
<text x="0" y="0" font-size="8" font-weight="bold" text-anchor="middle" fill="#231f20" stroke="#231f20" stroke-width="0.15" transform="translate(97.0,349.0) scale(1,1.08)">HBCx-12B</text>
<g transform="translate(7.50,404.90) rotate(-90)"><text x="0" y="0" font-size="8.15" text-anchor="middle" fill="#231f20" stroke="#231f20" stroke-width="0.18">Tumor volume (mm<tspan dy="-2.6" font-size="5">3</tspan><tspan dy="2.6">)</tspan></text></g>
<line x1="38.00" y1="458.5" x2="159.50" y2="458.5" stroke="#de3444" stroke-width="1.5"/>
<path d="M37.30 458.00 L65.81 455.70 L94.33 459.20 L122.84 461.80 L151.35 461.80" fill="none" stroke="#2e4fae" stroke-width="0.9"/>
<path d="M37.30 458.00 L65.81 452.30 L94.33 449.20 L122.84 440.00 L151.35 425.70" fill="none" stroke="#7a7a7a" stroke-width="0.8"/>
<path d="M37.30 458.00 L65.81 450.50 L94.33 442.00 L122.84 427.70 L151.35 390.50" fill="none" stroke="#222222" stroke-width="0.9"/>
<path d="M37.30 458.00" fill="none" stroke="#7a7a7a" stroke-width="0.8"/>
<line x1="122.84" y1="436.3" x2="122.84" y2="444.3" stroke="#8a8a8a" stroke-width="0.9"/>
<line x1="120.64" y1="436.3" x2="125.04" y2="436.3" stroke="#8a8a8a" stroke-width="0.9"/>
<line x1="120.64" y1="444.3" x2="125.04" y2="444.3" stroke="#8a8a8a" stroke-width="0.9"/>
<line x1="151.35" y1="418.9" x2="151.35" y2="432.3" stroke="#8a8a8a" stroke-width="0.9"/>
<line x1="149.15" y1="418.9" x2="153.55" y2="418.9" stroke="#8a8a8a" stroke-width="0.9"/>
<line x1="149.15" y1="432.3" x2="153.55" y2="432.3" stroke="#8a8a8a" stroke-width="0.9"/>
<line x1="122.84" y1="421.2" x2="122.84" y2="433" stroke="#444444" stroke-width="0.9"/>
<line x1="120.64" y1="421.2" x2="125.04" y2="421.2" stroke="#444444" stroke-width="0.9"/>
<line x1="120.64" y1="433" x2="125.04" y2="433" stroke="#444444" stroke-width="0.9"/>
<line x1="151.35" y1="384.6" x2="151.35" y2="396.9" stroke="#444444" stroke-width="0.9"/>
<line x1="149.15" y1="384.6" x2="153.55" y2="384.6" stroke="#444444" stroke-width="0.9"/>
<line x1="149.15" y1="396.9" x2="153.55" y2="396.9" stroke="#444444" stroke-width="0.9"/>
<circle cx="37.30" cy="458.00" r="2.7" fill="#1f45a3" stroke="#13286e" stroke-width="0.8"/>
<circle cx="65.81" cy="455.70" r="2.7" fill="#1f45a3" stroke="#13286e" stroke-width="0.8"/>
<circle cx="94.33" cy="459.20" r="2.7" fill="#1f45a3" stroke="#13286e" stroke-width="0.8"/>
<circle cx="122.84" cy="461.80" r="2.7" fill="#1f45a3" stroke="#13286e" stroke-width="0.8"/>
<circle cx="151.35" cy="461.80" r="2.7" fill="#1f45a3" stroke="#13286e" stroke-width="0.8"/>
<circle cx="37.30" cy="458.00" r="2.55" fill="#686868" stroke="#4a4a4a" stroke-width="0.8"/>
<circle cx="65.81" cy="452.30" r="2.55" fill="#686868" stroke="#4a4a4a" stroke-width="0.8"/>
<circle cx="94.33" cy="449.20" r="2.55" fill="#686868" stroke="#4a4a4a" stroke-width="0.8"/>
<circle cx="122.84" cy="440.00" r="2.55" fill="#686868" stroke="#4a4a4a" stroke-width="0.8"/>
<circle cx="151.35" cy="425.70" r="2.55" fill="#686868" stroke="#4a4a4a" stroke-width="0.8"/>
<circle cx="37.30" cy="458.00" r="3.1" fill="#ffffff" stroke="#222222" stroke-width="0.8"/>
<circle cx="65.81" cy="450.50" r="3.1" fill="#ffffff" stroke="#222222" stroke-width="0.8"/>
<circle cx="94.33" cy="442.00" r="3.1" fill="#ffffff" stroke="#222222" stroke-width="0.8"/>
<circle cx="122.84" cy="427.70" r="3.1" fill="#ffffff" stroke="#222222" stroke-width="0.8"/>
<circle cx="151.35" cy="390.50" r="3.1" fill="#ffffff" stroke="#222222" stroke-width="0.8"/>
<circle cx="37.30" cy="458.00" r="2.7" fill="#a0a0a0" stroke="#333333" stroke-width="0.8"/>
<line x1="213.5" y1="343.30" x2="213.5" y2="468.30" stroke="#111" stroke-width="1.5"/>
<line x1="212.80" y1="465.0" x2="336.40" y2="465.0" stroke="#111" stroke-width="1.5"/>
<line x1="209.90" y1="465.00" x2="213.5" y2="465.00" stroke="#111" stroke-width="1.3"/>
<text x="0" y="0" font-size="8.1" text-anchor="end" fill="#231f20" stroke="#231f20" stroke-width="0.2" transform="translate(208.3,467.85) scale(1,1.08)">0</text>
<line x1="209.90" y1="424.60" x2="213.5" y2="424.60" stroke="#111" stroke-width="1.3"/>
<text x="0" y="0" font-size="8.1" text-anchor="end" fill="#231f20" stroke="#231f20" stroke-width="0.2" transform="translate(208.3,427.45) scale(1,1.08)">1,000</text>
<line x1="209.90" y1="384.20" x2="213.5" y2="384.20" stroke="#111" stroke-width="1.3"/>
<text x="0" y="0" font-size="8.1" text-anchor="end" fill="#231f20" stroke="#231f20" stroke-width="0.2" transform="translate(208.3,387.05) scale(1,1.08)">2,000</text>
<line x1="209.90" y1="343.80" x2="213.5" y2="343.80" stroke="#111" stroke-width="1.3"/>
<text x="0" y="0" font-size="8.1" text-anchor="end" fill="#231f20" stroke="#231f20" stroke-width="0.2" transform="translate(208.3,346.65) scale(1,1.08)">3,000</text>
<line x1="213.50" y1="465.0" x2="213.50" y2="468.40" stroke="#111" stroke-width="1.3"/>
<text x="0" y="0" font-size="8.1" text-anchor="middle" fill="#231f20" stroke="#231f20" stroke-width="0.2" transform="translate(213.5,478.0) scale(1,1.08)">0</text>
<line x1="254.27" y1="465.0" x2="254.27" y2="468.40" stroke="#111" stroke-width="1.3"/>
<text x="0" y="0" font-size="8.1" text-anchor="middle" fill="#231f20" stroke="#231f20" stroke-width="0.2" transform="translate(254.27,478.0) scale(1,1.08)">10</text>
<line x1="295.03" y1="465.0" x2="295.03" y2="468.40" stroke="#111" stroke-width="1.3"/>
<text x="0" y="0" font-size="8.1" text-anchor="middle" fill="#231f20" stroke="#231f20" stroke-width="0.2" transform="translate(295.03,478.0) scale(1,1.08)">20</text>
<line x1="335.80" y1="465.0" x2="335.80" y2="468.40" stroke="#111" stroke-width="1.3"/>
<text x="0" y="0" font-size="8.1" text-anchor="middle" fill="#231f20" stroke="#231f20" stroke-width="0.2" transform="translate(335.8,478.0) scale(1,1.08)">30</text>
<path d="M211.30 482.30 L213.50 479.10 L215.70 482.30 Z" fill="#b5222d"/>
<text x="0" y="0" font-size="6.3" text-anchor="middle" fill="#c8283a" stroke="#c8283a" stroke-width="0.25" transform="translate(213.5,488.5) scale(1,1.08)">IV</text>
<text x="0" y="0" font-size="8.15" fill="#231f20" stroke="#231f20" stroke-width="0.2" transform="translate(236.7,486.8) scale(1,1.08)">Days post-treatment</text>
<text x="0" y="0" font-size="8" font-weight="bold" text-anchor="middle" fill="#231f20" stroke="#231f20" stroke-width="0.15" transform="translate(275.5,348.9) scale(1,1.08)">HBCx-1</text>
<g transform="translate(183.70,405.20) rotate(-90)"><text x="0" y="0" font-size="8.15" text-anchor="middle" fill="#231f20" stroke="#231f20" stroke-width="0.18">Tumor volume (mm<tspan dy="-2.6" font-size="5">3</tspan><tspan dy="2.6">)</tspan></text></g>
<line x1="214.20" y1="458.5" x2="335.80" y2="458.5" stroke="#de3444" stroke-width="1.5"/>
<path d="M213.50 459.20 L229.81 457.60 L242.04 457.20 L270.57 464.30 L299.11 464.60 L327.65 464.60" fill="none" stroke="#2e4fae" stroke-width="0.9"/>
<path d="M213.50 459.20 L229.81 457.20 L242.04 454.90 L270.57 442.90 L299.11 431.80 L327.65 413.40" fill="none" stroke="#222222" stroke-width="0.9"/>
<line x1="270.57" y1="438" x2="270.57" y2="447.7" stroke="#444444" stroke-width="0.9"/>
<line x1="268.37" y1="438" x2="272.77" y2="438" stroke="#444444" stroke-width="0.9"/>
<line x1="268.37" y1="447.7" x2="272.77" y2="447.7" stroke="#444444" stroke-width="0.9"/>
<line x1="299.11" y1="421.5" x2="299.11" y2="441.5" stroke="#444444" stroke-width="0.9"/>
<line x1="296.91" y1="421.5" x2="301.31" y2="421.5" stroke="#444444" stroke-width="0.9"/>
<line x1="296.91" y1="441.5" x2="301.31" y2="441.5" stroke="#444444" stroke-width="0.9"/>
<line x1="327.65" y1="405.4" x2="327.65" y2="421.2" stroke="#444444" stroke-width="0.9"/>
<line x1="325.45" y1="405.4" x2="329.85" y2="405.4" stroke="#444444" stroke-width="0.9"/>
<line x1="325.45" y1="421.2" x2="329.85" y2="421.2" stroke="#444444" stroke-width="0.9"/>
<circle cx="213.50" cy="459.20" r="2.7" fill="#1f45a3" stroke="#13286e" stroke-width="0.8"/>
<circle cx="229.81" cy="457.60" r="2.7" fill="#1f45a3" stroke="#13286e" stroke-width="0.8"/>
<circle cx="242.04" cy="457.20" r="2.7" fill="#1f45a3" stroke="#13286e" stroke-width="0.8"/>
<circle cx="270.57" cy="464.30" r="2.7" fill="#1f45a3" stroke="#13286e" stroke-width="0.8"/>
<circle cx="299.11" cy="464.60" r="2.7" fill="#1f45a3" stroke="#13286e" stroke-width="0.8"/>
<circle cx="327.65" cy="464.60" r="2.7" fill="#1f45a3" stroke="#13286e" stroke-width="0.8"/>
<circle cx="213.50" cy="459.20" r="3.1" fill="#ffffff" stroke="#222222" stroke-width="0.8"/>
<circle cx="229.81" cy="457.20" r="3.1" fill="#ffffff" stroke="#222222" stroke-width="0.8"/>
<circle cx="242.04" cy="454.90" r="3.1" fill="#ffffff" stroke="#222222" stroke-width="0.8"/>
<circle cx="270.57" cy="442.90" r="3.1" fill="#ffffff" stroke="#222222" stroke-width="0.8"/>
<circle cx="299.11" cy="431.80" r="3.1" fill="#ffffff" stroke="#222222" stroke-width="0.8"/>
<circle cx="327.65" cy="413.40" r="3.1" fill="#ffffff" stroke="#222222" stroke-width="0.8"/>
<line x1="391.9" y1="343.70" x2="391.9" y2="468.70" stroke="#111" stroke-width="1.5"/>
<line x1="391.20" y1="465.4" x2="514.80" y2="465.4" stroke="#111" stroke-width="1.5"/>
<line x1="388.30" y1="465.40" x2="391.9" y2="465.40" stroke="#111" stroke-width="1.3"/>
<text x="0" y="0" font-size="8.1" text-anchor="end" fill="#231f20" stroke="#231f20" stroke-width="0.2" transform="translate(386.7,468.25) scale(1,1.08)">0</text>
<line x1="388.30" y1="425.00" x2="391.9" y2="425.00" stroke="#111" stroke-width="1.3"/>
<text x="0" y="0" font-size="8.1" text-anchor="end" fill="#231f20" stroke="#231f20" stroke-width="0.2" transform="translate(386.7,427.85) scale(1,1.08)">1,000</text>
<line x1="388.30" y1="384.60" x2="391.9" y2="384.60" stroke="#111" stroke-width="1.3"/>
<text x="0" y="0" font-size="8.1" text-anchor="end" fill="#231f20" stroke="#231f20" stroke-width="0.2" transform="translate(386.7,387.45) scale(1,1.08)">2,000</text>
<line x1="388.30" y1="344.20" x2="391.9" y2="344.20" stroke="#111" stroke-width="1.3"/>
<text x="0" y="0" font-size="8.1" text-anchor="end" fill="#231f20" stroke="#231f20" stroke-width="0.2" transform="translate(386.7,347.05) scale(1,1.08)">3,000</text>
<line x1="391.90" y1="465.4" x2="391.90" y2="468.80" stroke="#111" stroke-width="1.3"/>
<text x="0" y="0" font-size="8.1" text-anchor="middle" fill="#231f20" stroke="#231f20" stroke-width="0.2" transform="translate(391.9,478.4) scale(1,1.08)">0</text>
<line x1="432.67" y1="465.4" x2="432.67" y2="468.80" stroke="#111" stroke-width="1.3"/>
<text x="0" y="0" font-size="8.1" text-anchor="middle" fill="#231f20" stroke="#231f20" stroke-width="0.2" transform="translate(432.67,478.4) scale(1,1.08)">10</text>
<line x1="473.43" y1="465.4" x2="473.43" y2="468.80" stroke="#111" stroke-width="1.3"/>
<text x="0" y="0" font-size="8.1" text-anchor="middle" fill="#231f20" stroke="#231f20" stroke-width="0.2" transform="translate(473.43,478.4) scale(1,1.08)">20</text>
<line x1="514.20" y1="465.4" x2="514.20" y2="468.80" stroke="#111" stroke-width="1.3"/>
<text x="0" y="0" font-size="8.1" text-anchor="middle" fill="#231f20" stroke="#231f20" stroke-width="0.2" transform="translate(514.2,478.4) scale(1,1.08)">30</text>
<path d="M389.70 482.70 L391.90 479.50 L394.10 482.70 Z" fill="#b5222d"/>
<text x="0" y="0" font-size="6.3" text-anchor="middle" fill="#c8283a" stroke="#c8283a" stroke-width="0.25" transform="translate(391.9,488.9) scale(1,1.08)">IV</text>
<text x="0" y="0" font-size="8.15" fill="#231f20" stroke="#231f20" stroke-width="0.2" transform="translate(416.6,487.2) scale(1,1.08)">Days post-treatment</text>
<text x="0" y="0" font-size="8" font-weight="bold" text-anchor="middle" fill="#231f20" stroke="#231f20" stroke-width="0.15" transform="translate(451.9,348.9) scale(1,1.08)">HBCx-9</text>
<g transform="translate(362.10,405.60) rotate(-90)"><text x="0" y="0" font-size="8.15" text-anchor="middle" fill="#231f20" stroke="#231f20" stroke-width="0.18">Tumor volume (mm<tspan dy="-2.6" font-size="5">3</tspan><tspan dy="2.6">)</tspan></text></g>
<line x1="392.60" y1="458.4" x2="514.20" y2="458.4" stroke="#de3444" stroke-width="1.5"/>
<path d="M391.90 460.00 L420.44 459.20 L448.97 464.90 L477.51 464.80 L506.05 464.80" fill="none" stroke="#2e4fae" stroke-width="0.9"/>
<path d="M391.90 460.00 L420.44 452.60 L448.97 440.80 L477.51 423.20 L506.05 375.00" fill="none" stroke="#222222" stroke-width="0.9"/>
<line x1="448.97" y1="436.6" x2="448.97" y2="445.4" stroke="#444444" stroke-width="0.9"/>
<line x1="446.77" y1="436.6" x2="451.17" y2="436.6" stroke="#444444" stroke-width="0.9"/>
<line x1="446.77" y1="445.4" x2="451.17" y2="445.4" stroke="#444444" stroke-width="0.9"/>
<line x1="477.51" y1="418.3" x2="477.51" y2="428.4" stroke="#444444" stroke-width="0.9"/>
<line x1="475.31" y1="418.3" x2="479.71" y2="418.3" stroke="#444444" stroke-width="0.9"/>
<line x1="475.31" y1="428.4" x2="479.71" y2="428.4" stroke="#444444" stroke-width="0.9"/>
<line x1="506.05" y1="354.6" x2="506.05" y2="395.8" stroke="#444444" stroke-width="0.9"/>
<line x1="503.85" y1="354.6" x2="508.25" y2="354.6" stroke="#444444" stroke-width="0.9"/>
<line x1="503.85" y1="395.8" x2="508.25" y2="395.8" stroke="#444444" stroke-width="0.9"/>
<circle cx="391.90" cy="460.00" r="2.7" fill="#1f45a3" stroke="#13286e" stroke-width="0.8"/>
<circle cx="420.44" cy="459.20" r="2.7" fill="#1f45a3" stroke="#13286e" stroke-width="0.8"/>
<circle cx="448.97" cy="464.90" r="2.7" fill="#1f45a3" stroke="#13286e" stroke-width="0.8"/>
<circle cx="477.51" cy="464.80" r="2.7" fill="#1f45a3" stroke="#13286e" stroke-width="0.8"/>
<circle cx="506.05" cy="464.80" r="2.7" fill="#1f45a3" stroke="#13286e" stroke-width="0.8"/>
<circle cx="391.90" cy="460.00" r="3.1" fill="#ffffff" stroke="#222222" stroke-width="0.8"/>
<circle cx="420.44" cy="452.60" r="3.1" fill="#ffffff" stroke="#222222" stroke-width="0.8"/>
<circle cx="448.97" cy="440.80" r="3.1" fill="#ffffff" stroke="#222222" stroke-width="0.8"/>
<circle cx="477.51" cy="423.20" r="3.1" fill="#ffffff" stroke="#222222" stroke-width="0.8"/>
<circle cx="506.05" cy="375.00" r="3.1" fill="#ffffff" stroke="#222222" stroke-width="0.8"/>
<line x1="37.3" y1="506.50" x2="37.3" y2="632.10" stroke="#111" stroke-width="1.5"/>
<line x1="36.60" y1="628.8" x2="160.10" y2="628.8" stroke="#111" stroke-width="1.5"/>
<line x1="33.70" y1="628.80" x2="37.3" y2="628.80" stroke="#111" stroke-width="1.3"/>
<text x="0" y="0" font-size="8.1" text-anchor="end" fill="#231f20" stroke="#231f20" stroke-width="0.2" transform="translate(32.1,631.65) scale(1,1.08)">0</text>
<line x1="33.70" y1="588.20" x2="37.3" y2="588.20" stroke="#111" stroke-width="1.3"/>
<text x="0" y="0" font-size="8.1" text-anchor="end" fill="#231f20" stroke="#231f20" stroke-width="0.2" transform="translate(32.1,591.05) scale(1,1.08)">1,000</text>
<line x1="33.70" y1="547.60" x2="37.3" y2="547.60" stroke="#111" stroke-width="1.3"/>
<text x="0" y="0" font-size="8.1" text-anchor="end" fill="#231f20" stroke="#231f20" stroke-width="0.2" transform="translate(32.1,550.45) scale(1,1.08)">2,000</text>
<line x1="33.70" y1="507.00" x2="37.3" y2="507.00" stroke="#111" stroke-width="1.3"/>
<text x="0" y="0" font-size="8.1" text-anchor="end" fill="#231f20" stroke="#231f20" stroke-width="0.2" transform="translate(32.1,509.85) scale(1,1.08)">3,000</text>
<line x1="37.30" y1="628.8" x2="37.30" y2="632.20" stroke="#111" stroke-width="1.3"/>
<text x="0" y="0" font-size="8.1" text-anchor="middle" fill="#231f20" stroke="#231f20" stroke-width="0.2" transform="translate(37.3,639.4) scale(1,1.08)">0</text>
<line x1="78.03" y1="628.8" x2="78.03" y2="632.20" stroke="#111" stroke-width="1.3"/>
<text x="0" y="0" font-size="8.1" text-anchor="middle" fill="#231f20" stroke="#231f20" stroke-width="0.2" transform="translate(78.03,639.4) scale(1,1.08)">10</text>
<line x1="118.77" y1="628.8" x2="118.77" y2="632.20" stroke="#111" stroke-width="1.3"/>
<text x="0" y="0" font-size="8.1" text-anchor="middle" fill="#231f20" stroke="#231f20" stroke-width="0.2" transform="translate(118.77,639.4) scale(1,1.08)">20</text>
<line x1="159.50" y1="628.8" x2="159.50" y2="632.20" stroke="#111" stroke-width="1.3"/>
<text x="0" y="0" font-size="8.1" text-anchor="middle" fill="#231f20" stroke="#231f20" stroke-width="0.2" transform="translate(159.5,639.4) scale(1,1.08)">30</text>
<path d="M35.10 644.06 L37.30 640.86 L39.50 644.06 Z" fill="#b5222d"/>
<text x="0" y="0" font-size="6.3" text-anchor="middle" fill="#c8283a" stroke="#c8283a" stroke-width="0.25" transform="translate(37.3,649.9) scale(1,1.08)">IV</text>
<text x="0" y="0" font-size="8.15" fill="#231f20" stroke="#231f20" stroke-width="0.2" transform="translate(60.4,648.68) scale(1,1.08)">Days post-treatment</text>
<text x="0" y="0" font-size="8" font-weight="bold" text-anchor="middle" fill="#231f20" stroke="#231f20" stroke-width="0.15" transform="translate(97.1,512.8) scale(1,1.08)">HBCx-24</text>
<g transform="translate(7.50,568.70) rotate(-90)"><text x="0" y="0" font-size="8.15" text-anchor="middle" fill="#231f20" stroke="#231f20" stroke-width="0.18">Tumor volume (mm<tspan dy="-2.6" font-size="5">3</tspan><tspan dy="2.6">)</tspan></text></g>
<line x1="38.00" y1="622.1" x2="159.50" y2="622.1" stroke="#de3444" stroke-width="1.5"/>
<path d="M37.30 623.90 L65.81 619.00 L94.33 626.90 L122.84 627.70 L151.35 628.50" fill="none" stroke="#2e4fae" stroke-width="0.9"/>
<path d="M37.30 623.90 L65.81 618.50 L94.33 605.10 L122.84 586.60 L151.35 565.10" fill="none" stroke="#222222" stroke-width="0.9"/>
<path d="M37.30 623.90 L65.81 618.80 L94.33 608.50 L122.84 591.80 L151.35 568.80" fill="none" stroke="#7a7a7a" stroke-width="0.8"/>
<line x1="151.35" y1="557.7" x2="151.35" y2="570" stroke="#444444" stroke-width="0.9"/>
<line x1="149.15" y1="557.7" x2="153.55" y2="557.7" stroke="#444444" stroke-width="0.9"/>
<line x1="149.15" y1="570" x2="153.55" y2="570" stroke="#444444" stroke-width="0.9"/>
<line x1="122.84" y1="588" x2="122.84" y2="597" stroke="#8a8a8a" stroke-width="0.9"/>
<line x1="120.64" y1="588" x2="125.04" y2="588" stroke="#8a8a8a" stroke-width="0.9"/>
<line x1="120.64" y1="597" x2="125.04" y2="597" stroke="#8a8a8a" stroke-width="0.9"/>
<line x1="151.35" y1="562" x2="151.35" y2="579.2" stroke="#8a8a8a" stroke-width="0.9"/>
<line x1="149.15" y1="562" x2="153.55" y2="562" stroke="#8a8a8a" stroke-width="0.9"/>
<line x1="149.15" y1="579.2" x2="153.55" y2="579.2" stroke="#8a8a8a" stroke-width="0.9"/>
<circle cx="37.30" cy="623.90" r="2.7" fill="#1f45a3" stroke="#13286e" stroke-width="0.8"/>
<circle cx="65.81" cy="619.00" r="2.7" fill="#1f45a3" stroke="#13286e" stroke-width="0.8"/>
<circle cx="94.33" cy="626.90" r="2.7" fill="#1f45a3" stroke="#13286e" stroke-width="0.8"/>
<circle cx="122.84" cy="627.70" r="2.7" fill="#1f45a3" stroke="#13286e" stroke-width="0.8"/>
<circle cx="151.35" cy="628.50" r="2.7" fill="#1f45a3" stroke="#13286e" stroke-width="0.8"/>
<circle cx="37.30" cy="623.90" r="3.1" fill="#ffffff" stroke="#222222" stroke-width="0.8"/>
<circle cx="65.81" cy="618.50" r="3.1" fill="#ffffff" stroke="#222222" stroke-width="0.8"/>
<circle cx="94.33" cy="605.10" r="3.1" fill="#ffffff" stroke="#222222" stroke-width="0.8"/>
<circle cx="122.84" cy="586.60" r="3.1" fill="#ffffff" stroke="#222222" stroke-width="0.8"/>
<circle cx="151.35" cy="565.10" r="3.1" fill="#ffffff" stroke="#222222" stroke-width="0.8"/>
<circle cx="37.30" cy="623.90" r="2.55" fill="#7e7e7e" stroke="#4a4a4a" stroke-width="0.8"/>
<circle cx="65.81" cy="618.80" r="2.55" fill="#7e7e7e" stroke="#4a4a4a" stroke-width="0.8"/>
<circle cx="94.33" cy="608.50" r="2.55" fill="#7e7e7e" stroke="#4a4a4a" stroke-width="0.8"/>
<circle cx="122.84" cy="591.80" r="2.55" fill="#7e7e7e" stroke="#4a4a4a" stroke-width="0.8"/>
<circle cx="151.35" cy="568.80" r="2.55" fill="#7e7e7e" stroke="#4a4a4a" stroke-width="0.8"/>
<line x1="213.5" y1="506.50" x2="213.5" y2="632.10" stroke="#111" stroke-width="1.5"/>
<line x1="212.80" y1="628.8" x2="336.40" y2="628.8" stroke="#111" stroke-width="1.5"/>
<line x1="209.90" y1="628.80" x2="213.5" y2="628.80" stroke="#111" stroke-width="1.3"/>
<text x="0" y="0" font-size="8.1" text-anchor="end" fill="#231f20" stroke="#231f20" stroke-width="0.2" transform="translate(208.3,631.65) scale(1,1.08)">0</text>
<line x1="209.90" y1="588.20" x2="213.5" y2="588.20" stroke="#111" stroke-width="1.3"/>
<text x="0" y="0" font-size="8.1" text-anchor="end" fill="#231f20" stroke="#231f20" stroke-width="0.2" transform="translate(208.3,591.05) scale(1,1.08)">1,000</text>
<line x1="209.90" y1="547.60" x2="213.5" y2="547.60" stroke="#111" stroke-width="1.3"/>
<text x="0" y="0" font-size="8.1" text-anchor="end" fill="#231f20" stroke="#231f20" stroke-width="0.2" transform="translate(208.3,550.45) scale(1,1.08)">2,000</text>
<line x1="209.90" y1="507.00" x2="213.5" y2="507.00" stroke="#111" stroke-width="1.3"/>
<text x="0" y="0" font-size="8.1" text-anchor="end" fill="#231f20" stroke="#231f20" stroke-width="0.2" transform="translate(208.3,509.85) scale(1,1.08)">3,000</text>
<line x1="213.50" y1="628.8" x2="213.50" y2="632.20" stroke="#111" stroke-width="1.3"/>
<text x="0" y="0" font-size="8.1" text-anchor="middle" fill="#231f20" stroke="#231f20" stroke-width="0.2" transform="translate(213.5,639.4) scale(1,1.08)">0</text>
<line x1="254.27" y1="628.8" x2="254.27" y2="632.20" stroke="#111" stroke-width="1.3"/>
<text x="0" y="0" font-size="8.1" text-anchor="middle" fill="#231f20" stroke="#231f20" stroke-width="0.2" transform="translate(254.27,639.4) scale(1,1.08)">10</text>
<line x1="295.03" y1="628.8" x2="295.03" y2="632.20" stroke="#111" stroke-width="1.3"/>
<text x="0" y="0" font-size="8.1" text-anchor="middle" fill="#231f20" stroke="#231f20" stroke-width="0.2" transform="translate(295.03,639.4) scale(1,1.08)">20</text>
<line x1="335.80" y1="628.8" x2="335.80" y2="632.20" stroke="#111" stroke-width="1.3"/>
<text x="0" y="0" font-size="8.1" text-anchor="middle" fill="#231f20" stroke="#231f20" stroke-width="0.2" transform="translate(335.8,639.4) scale(1,1.08)">30</text>
<path d="M211.30 644.06 L213.50 640.86 L215.70 644.06 Z" fill="#b5222d"/>
<text x="0" y="0" font-size="6.3" text-anchor="middle" fill="#c8283a" stroke="#c8283a" stroke-width="0.25" transform="translate(213.5,649.9) scale(1,1.08)">IV</text>
<text x="0" y="0" font-size="8.15" fill="#231f20" stroke="#231f20" stroke-width="0.2" transform="translate(236.7,648.68) scale(1,1.08)">Days post-treatment</text>
<text x="0" y="0" font-size="8" font-weight="bold" text-anchor="middle" fill="#231f20" stroke="#231f20" stroke-width="0.15" transform="translate(273.2,512.8) scale(1,1.08)">HBCx-28</text>
<g transform="translate(183.70,568.70) rotate(-90)"><text x="0" y="0" font-size="8.15" text-anchor="middle" fill="#231f20" stroke="#231f20" stroke-width="0.18">Tumor volume (mm<tspan dy="-2.6" font-size="5">3</tspan><tspan dy="2.6">)</tspan></text></g>
<line x1="214.20" y1="622.0" x2="335.80" y2="622.0" stroke="#de3444" stroke-width="1.5"/>
<path d="M213.50 620.50 L242.04 616.50 L270.57 626.70 L299.11 628.30 L327.65 628.30" fill="none" stroke="#1d2f7a" stroke-width="1.3"/>
<path d="M213.50 619.50 L242.04 603.50 L270.57 583.10 L299.11 551.50" fill="none" stroke="#222222" stroke-width="0.9"/>
<line x1="242.04" y1="612.9" x2="242.04" y2="619.4" stroke="#1a2f80" stroke-width="1.3"/>
<line x1="239.34" y1="612.9" x2="244.74" y2="612.9" stroke="#1a2f80" stroke-width="1.3"/>
<line x1="239.34" y1="619.4" x2="244.74" y2="619.4" stroke="#1a2f80" stroke-width="1.3"/>
<line x1="270.57" y1="574" x2="270.57" y2="591.7" stroke="#444444" stroke-width="0.9"/>
<line x1="268.37" y1="574" x2="272.77" y2="574" stroke="#444444" stroke-width="0.9"/>
<line x1="268.37" y1="591.7" x2="272.77" y2="591.7" stroke="#444444" stroke-width="0.9"/>
<line x1="299.11" y1="546.5" x2="299.11" y2="556.9" stroke="#444444" stroke-width="0.9"/>
<line x1="296.91" y1="546.5" x2="301.31" y2="546.5" stroke="#444444" stroke-width="0.9"/>
<line x1="296.91" y1="556.9" x2="301.31" y2="556.9" stroke="#444444" stroke-width="0.9"/>
<circle cx="213.50" cy="620.50" r="2.2" fill="#1f45a3" stroke="#13286e" stroke-width="0.8"/>
<circle cx="242.04" cy="616.50" r="2.2" fill="#1f45a3" stroke="#13286e" stroke-width="0.8"/>
<circle cx="270.57" cy="626.70" r="2.2" fill="#1f45a3" stroke="#13286e" stroke-width="0.8"/>
<circle cx="299.11" cy="628.30" r="2.2" fill="#1f45a3" stroke="#13286e" stroke-width="0.8"/>
<circle cx="327.65" cy="628.30" r="2.2" fill="#1f45a3" stroke="#13286e" stroke-width="0.8"/>
<circle cx="213.50" cy="619.50" r="3.1" fill="#ffffff" stroke="#222222" stroke-width="0.8"/>
<circle cx="242.04" cy="603.50" r="3.1" fill="#ffffff" stroke="#222222" stroke-width="0.8"/>
<circle cx="270.57" cy="583.10" r="3.1" fill="#ffffff" stroke="#222222" stroke-width="0.8"/>
<circle cx="299.11" cy="551.50" r="3.1" fill="#ffffff" stroke="#222222" stroke-width="0.8"/>
<rect x="388.7" y="527.7" width="58" height="37.9" rx="2.2" fill="#fff" stroke="#8c8c8c" stroke-width="0.9"/>
<circle cx="396.9" cy="534" r="2.8" fill="#ffffff" stroke="#777" stroke-width="0.8"/>
<text x="0" y="0" font-size="8" fill="#231f20" stroke="#231f20" stroke-width="0.2" transform="translate(406.0,536.9) scale(1,1.08)">Untreated</text>
<circle cx="396.9" cy="546" r="2.8" fill="#686868" stroke="#4a4a4a" stroke-width="0.8"/>
<text x="0" y="0" font-size="8" fill="#231f20" stroke="#231f20" stroke-width="0.2" transform="translate(406.0,548.9) scale(1,1.08)">Iso-ADC</text>
<circle cx="396.9" cy="557.9" r="2.8" fill="#1f45a3" stroke="#13286e" stroke-width="0.8"/>
<text x="0" y="0" font-size="8" fill="#231f20" stroke="#231f20" stroke-width="0.2" transform="translate(406.0,560.8) scale(1,1.08)">AZD8025</text>
</svg>
</body></html>
